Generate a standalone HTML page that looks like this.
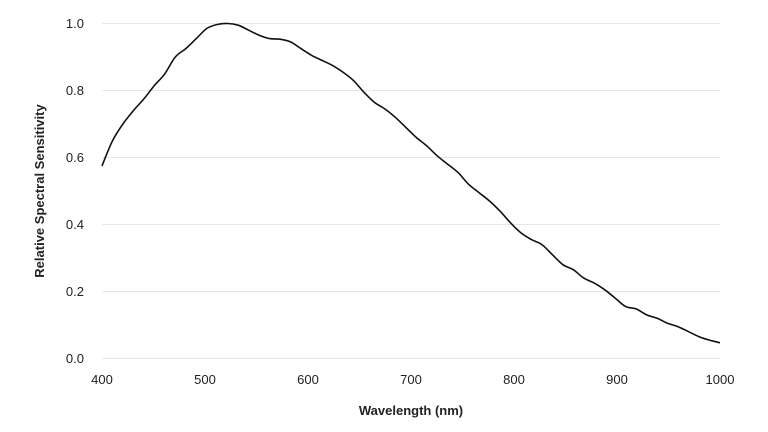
<!DOCTYPE html>
<html><head><meta charset="utf-8"><style>
html,body{margin:0;padding:0;background:#fff;}
svg{display:block;font-family:"Liberation Sans",sans-serif;}
</style></head><body>
<svg id="s" width="768" height="432" viewBox="0 0 768 432">
<g stroke="#e6e6e6" stroke-width="1">
<line x1="102" y1="23.5" x2="720" y2="23.5"/>
<line x1="102" y1="90.5" x2="720" y2="90.5"/>
<line x1="102" y1="157.5" x2="720" y2="157.5"/>
<line x1="102" y1="224.5" x2="720" y2="224.5"/>
<line x1="102" y1="291.5" x2="720" y2="291.5"/>
<line x1="102" y1="358.5" x2="720" y2="358.5"/>
</g>
<g font-size="13" fill="#222" text-anchor="end">
<text x="84" y="363">0.0</text><text x="84" y="296">0.2</text><text x="84" y="229">0.4</text>
<text x="84" y="162">0.6</text><text x="84" y="95">0.8</text><text x="84" y="28">1.0</text>
</g>
<g font-size="13" fill="#222" text-anchor="middle">
<text x="102" y="384">400</text><text x="205" y="384">500</text><text x="308" y="384">600</text>
<text x="411" y="384">700</text><text x="514" y="384">800</text><text x="617" y="384">900</text><text x="720" y="384">1000</text>
</g>
<text x="411" y="415" font-size="13" font-weight="bold" text-anchor="middle" fill="#222">Wavelength (nm)</text>
<text transform="translate(44,191) rotate(-90)" font-size="13" font-weight="bold" text-anchor="middle" fill="#222">Relative Spectral Sensitivity</text>
<path id="p" fill="none" stroke="#111" stroke-width="1.6" stroke-linejoin="round"/>
</svg>
<script>
var d=[0.575,0.65,0.70,0.74,0.775,0.815,0.85,0.90,0.925,0.955,0.985,0.997,1.0,0.995,0.98,0.965,0.955,0.953,0.945,0.925,0.905,0.89,0.875,0.855,0.83,0.795,0.765,0.745,0.72,0.69,0.66,0.635,0.605,0.58,0.555,0.52,0.495,0.47,0.44,0.405,0.375,0.355,0.34,0.31,0.28,0.265,0.24,0.225,0.205,0.18,0.155,0.148,0.13,0.12,0.105,0.095,0.08,0.065,0.055,0.047];
var n=d.length,P=[];
for(var i=0;i<n;i++)P.push([102+i*618/(n-1),358.5-d[i]*335]);
var s="M"+P[0][0].toFixed(1)+" "+P[0][1].toFixed(1);
for(var i=0;i<n-1;i++){var p0=P[Math.max(0,i-1)],p1=P[i],p2=P[i+1],p3=P[Math.min(n-1,i+2)];
var c1=[p1[0]+(p2[0]-p0[0])/6,p1[1]+(p2[1]-p0[1])/6],c2=[p2[0]-(p3[0]-p1[0])/6,p2[1]-(p3[1]-p1[1])/6];
s+="C"+c1[0].toFixed(1)+" "+c1[1].toFixed(1)+" "+c2[0].toFixed(1)+" "+c2[1].toFixed(1)+" "+p2[0].toFixed(1)+" "+p2[1].toFixed(1);}
document.getElementById("p").setAttribute("d",s);
</script>
</body></html>
